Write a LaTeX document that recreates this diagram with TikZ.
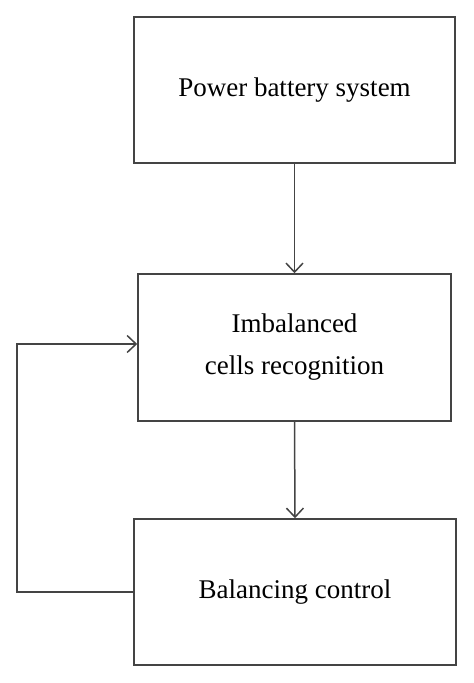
\documentclass[tikz,border=0pt]{standalone}
\usepackage{fontspec}
\setmainfont{Liberation Serif}
\usetikzlibrary{arrows.meta}
\definecolor{linegray}{HTML}{444444}
\tikzset{
  blockbox/.style={draw=linegray, line width=1.6pt, rectangle, align=center, inner sep=0pt,
    font=\fontsize{27}{42}\selectfont, text=black},
  flow/.style={draw=linegray, line width=1.5pt, -{Straight Barb[length=9pt,width=17pt,line width=1.5pt]}}
}
\begin{document}
\begin{tikzpicture}[x=1pt,y=-1pt]
\useasboundingbox (0,0) rectangle (474,683);
\node[blockbox, minimum width=321pt, minimum height=146pt] (top) at (294.5,90) {Power battery system};
\node[blockbox, minimum width=313pt, minimum height=147pt] (mid) at (294.5,347.5) {Imbalanced\\cells recognition};
\node[blockbox, minimum width=322pt, minimum height=146pt] (bot) at (295,592) {Balancing control};
\coordinate (fb) at (17,592);
\draw[flow] (top.south) -- (mid.north);
\draw[flow] (mid.south) -- (bot.north);
\draw[flow] (bot.west) -- (fb) |- ([yshift=3.5pt]mid.west);
\end{tikzpicture}
\end{document}
